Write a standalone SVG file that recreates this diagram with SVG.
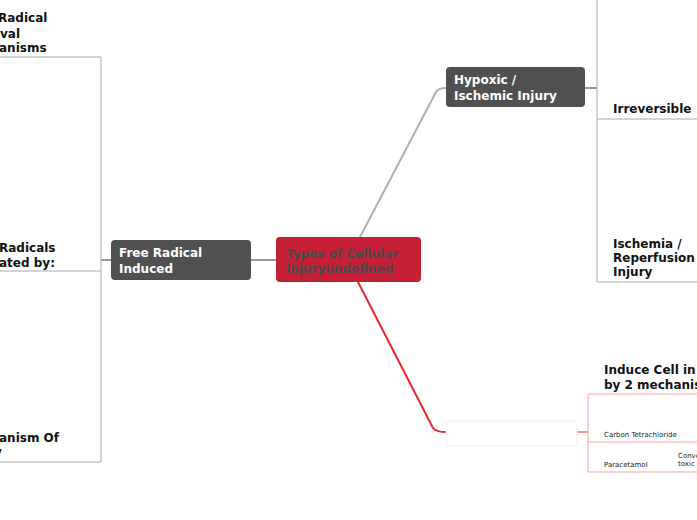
<svg xmlns="http://www.w3.org/2000/svg" width="697" height="520" viewBox="0 0 697 520">
<style>
.b{font-family:"DejaVu Sans",Verdana,sans-serif;font-weight:bold;font-size:12px;fill:#111}
.w{font-family:"DejaVu Sans",Verdana,sans-serif;font-weight:bold;font-size:12px;fill:#fff}
.s{font-family:"DejaVu Sans",Verdana,sans-serif;font-size:7px;fill:#222}
.g{fill:none;stroke:#aaa;stroke-width:1}
.k{fill:none;stroke:#333;stroke-width:1}
.p{fill:none;stroke:#f5a0a0;stroke-width:1}
</style>
<rect width="697" height="520" fill="#fff"/>
<g id="connectors">
<path d="M360 237 L436 92 Q438 88 446 88" fill="none" stroke="#b0b0b0" stroke-width="2"/>
<path d="M358 282 L433 428 Q436 432 446 432" fill="none" stroke="#e8262b" stroke-width="2"/>
<line class="k" x1="251" y1="260" x2="276" y2="260"/>
<line class="k" x1="101" y1="260" x2="111" y2="260"/>
<line class="k" x1="585" y1="88" x2="597" y2="88"/>
<line x1="577" y1="432" x2="588" y2="432" stroke="#e8262b"/>
</g>
<g id="left-branches">
<path class="g" d="M0 57 H101 V462 H0 M0 271 H101"/>
<text class="b" x="-2" y="22">Radical</text>
<text class="b" x="0" y="38">val</text>
<text class="b" x="-1" y="52">anisms</text>
<text class="b" x="-1" y="252">Radicals</text>
<text class="b" x="-1" y="267">ated by:</text>
<text class="b" x="-1" y="442">anism Of</text>
<text class="b" x="-6" y="456">y</text>
</g>
<g id="right-branches">
<path class="g" d="M597 0 V282 H697 M597 119 H697"/>
<text class="b" x="613" y="113">Irreversible</text>
<text class="b" x="613" y="248">Ischemia /</text>
<text class="b" x="613" y="262">Reperfusion</text>
<text class="b" x="613" y="276">Injury</text>
</g>
<g id="induce">
<text class="b" x="604" y="374">Induce Cell in</text>
<text class="b" x="604" y="389">by 2 mechanis</text>
<path class="p" d="M697 394 H588 V472 H697 M588 442 H697"/>
<text class="s" x="604" y="437">Carbon Tetrachloride</text>
<text class="s" x="604" y="467">Paracetamol</text>
<text class="s" x="678" y="458">Conve</text>
<text class="s" x="678" y="466">toxic</text>
</g>
<g id="central">
<rect x="276" y="237" width="145" height="45" rx="4" fill="#c41f35"/>
<text class="b" x="286" y="258" style="fill:#4a4a4a">Types of Cellular</text>
<text class="b" x="286" y="273" style="fill:#4a4a4a">Injuryundefined</text>
</g>
<g id="free-radical">
<rect x="111" y="240" width="140" height="40" rx="4" fill="#505050"/>
<text class="w" x="119" y="257">Free Radical</text>
<text class="w" x="119" y="273">Induced</text>
</g>
<g id="hypoxic">
<rect x="446" y="67" width="139" height="40" rx="4" fill="#505050"/>
<text class="w" x="454" y="84">Hypoxic /</text>
<text class="w" x="454" y="100">Ischemic Injury</text>
</g>
<g id="empty-node">
<rect x="446" y="421" width="131" height="25" rx="4" fill="#fff" stroke="#eee"/>
</g>
</svg>
